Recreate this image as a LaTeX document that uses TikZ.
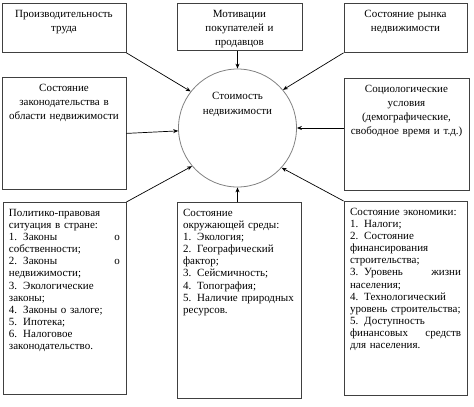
\documentclass[tikz,border=0pt]{standalone}
\usepackage{fontspec}
\setmainfont{Liberation Serif}
\usetikzlibrary{arrows.meta}
\definecolor{frameGray}{RGB}{64,64,64}
\definecolor{ringGray}{RGB}{128,128,128}
\newcommand{\punkt}[1]{#1.\hspace{6pt}}

\begin{document}
\begin{tikzpicture}[x=1pt, y=-1pt,
    factor/.style={draw=frameGray, line width=0.8pt, anchor=north, inner xsep=3pt, inner ysep=0pt, align=center, font=\fontsize{11}{14}\selectfont, text height=14pt},
    detail/.style={draw=frameGray, line width=0.8pt, anchor=north, inner xsep=6pt, inner ysep=0pt, align=left, font=\fontsize{11}{12.1}\selectfont, text height=14pt},
    value/.style={circle, draw=ringGray, line width=0.8pt, inner sep=0pt, minimum size=118pt, align=center, font=\fontsize{11}{15}\selectfont, text height=7pt, text depth=35pt},
    arrow/.style={-{Stealth[length=5pt, width=4pt]}, line width=0.7pt}
]
\useasboundingbox (0,0) rectangle (474,407);

\node[factor, text width=118pt, text depth=35pt] (trud) at (64,3) {Производительность\\труда};
\node[factor, text width=119pt, text depth=33pt] (motiv) at (239.5,3) {Мотивации\\покупателей и\\продавцов};
\node[factor, text width=117pt, text depth=35pt] (rynok) at (405.5,3) {Состояние рынка\\недвижимости};
\node[factor, text width=118pt, text depth=98pt] (zakon) at (64,77) {Состояние\\законодательства в\\области недвижимости};
\node[factor, text width=119pt, text depth=98pt] (socio) at (406.5,78) {Социологические\\условия\\(демографические,\\свободное~время~и~т.д.)};

\node[value] (stoim) at (237.5,128) {Стоимость\\недвижимости};

\node[detail, text width=111pt, text depth=178pt] (polit) at (64.5,202) {Политико-правовая\\ситуация в стране:\\\punkt{1}Законы \hfill о\\собственности;\\\punkt{2}Законы \hfill о\\недвижимости;\\\punkt{3}Экологические\\законы;\\\punkt{4}Законы~о~залоге;\\\punkt{5}Ипотека;\\\punkt{6}Налоговое\\законодательство.};
\node[detail, text width=112pt, text depth=182pt] (sreda) at (239,202) {Состояние\\окружающей~среды:\\\punkt{1}Экология;\\\punkt{2}Географический\\фактор;\\\punkt{3}Сейсмичность;\\\punkt{4}Топография;\\\punkt{5}Наличие~природных\\ресурсов.};
\node[detail, text width=111pt, text depth=180pt] (econ) at (405.5,201) {Состояние~экономики:\\\punkt{1}Налоги;\\\punkt{2}Состояние\\финансирования\\строительства;\\\punkt{3}Уровень \hfill жизни\\населения;\\\punkt{4}Технологический\\уровень~строительства;\\\punkt{5}Доступность\\финансовых \hfill средств\\для населения.};

\draw[arrow] (trud.south east) -- (stoim.142);
\draw[arrow] (motiv.south -| stoim.north) -- (stoim.north);
\draw[arrow] (rynok.south west) -- (stoim.40);
\draw[arrow] (zakon.east) -- (stoim);
\draw[arrow] (socio.west |- stoim.east) -- (stoim.east);
\draw[arrow] (polit.north east) -- (stoim.220);
\draw[arrow] (sreda.north -| stoim.south) -- (stoim.south);
\draw[arrow] (econ.north west) -- (stoim.318);
\end{tikzpicture}
\end{document}
